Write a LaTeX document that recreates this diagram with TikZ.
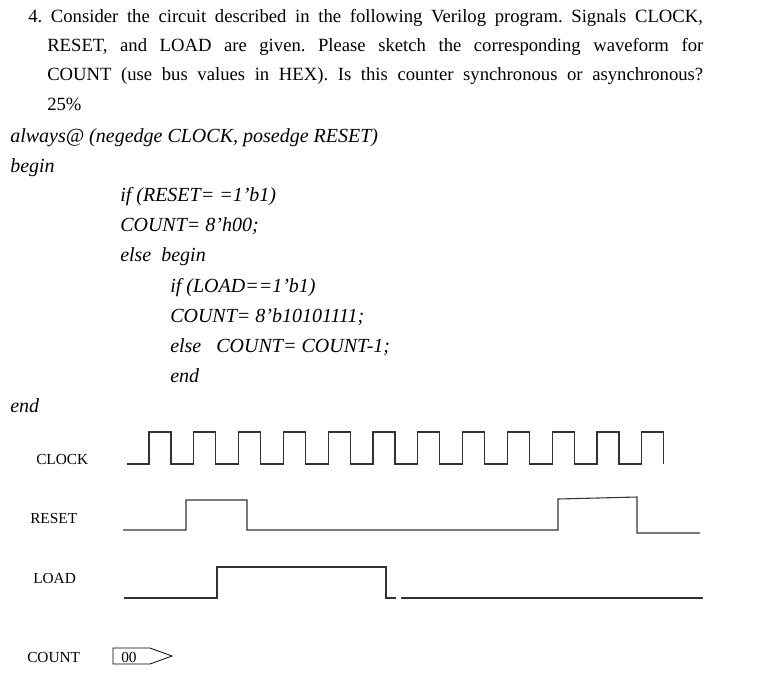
\documentclass[tikz,border=0pt]{standalone}
\usepackage{fontspec}
\setmainfont{Liberation Serif}
\begin{document}
\frenchspacing
\begin{tikzpicture}[x=0.75pt,y=-0.75pt,
  txt/.style={anchor=base west,inner sep=0pt,font=\fontsize{14}{16}\selectfont},
  code/.style={txt,font=\fontsize{15}{17}\selectfont\itshape},
  lbl/.style={anchor=base west,inner sep=0pt,font=\fontsize{11.5}{13}\selectfont},
  wave/.style={line width=0.8pt,black!80}]
\useasboundingbox (0,0) rectangle (762,690);
\node[txt] (p1) at (28,22) {\makebox[506pt][s]{4. Consider the circuit described in the following Verilog program. Signals CLOCK,}};
\node[txt] (p2) at (47,51) {\makebox[492pt][s]{RESET, and LOAD are given. Please sketch the corresponding waveform for}};
\node[txt] (p3) at (47,80) {\makebox[492pt][s]{COUNT (use bus values in HEX). Is this counter synchronous or asynchronous?}};
\node[txt] (p4) at (47,110) {25\%};
\node[code] (c1) at (10,142) {always@ (negedge CLOCK, posedge RESET)};
\node[code] (c2) at (10,172) {begin};
\node[code] (c3) at (120,201) {if (RESET= =1'b1)};
\node[code] (c4) at (120,231) {COUNT= 8'h00;};
\node[code] (c5) at (120,261) {else\ \ begin};
\node[code] (c6) at (170,292) {if (LOAD==1'b1)};
\node[code] (c7) at (170,322) {COUNT= 8'b10101111;};
\node[code] (c8) at (170,352) {else\ \ \ COUNT= COUNT-1;};
\node[code] (c9) at (170,382) {end};
\node[code] (c10) at (10,412) {end};
\node[lbl] (lc) at (36,464) {CLOCK};
\node[lbl] (lr) at (30,523) {RESET};
\node[lbl] (ll) at (33,583) {LOAD};
\node[lbl] (lcount) at (27,662) {COUNT};
% clock
\draw[wave] (127,464) -- (149,464)
  \foreach \k in {0,...,11} { -- ({149+44.8*\k},464) -- ({149+44.8*\k},432) -- ({171+44.8*\k},432) -- ({171+44.8*\k},464) };
% reset
\draw[wave] (123,530) -- (186,530) -- (186,500) -- (247,500) -- (247,530) -- (558,530) -- (558,499) -- (637,497) -- (637,533) -- (700,533);
% load
\draw[wave] (124,598) -- (217,598) -- (217,567) -- (386,567) -- (386,598) -- (396,598);
\draw[wave] (401,598) -- (703,598);
% count
\draw[line width=0.6pt] (113,648) -- (150,648) -- (172,656) -- (150,664) -- (113,664) -- cycle;
\node[lbl] (cv) at (121,662) {00};
\end{tikzpicture}
\end{document}
